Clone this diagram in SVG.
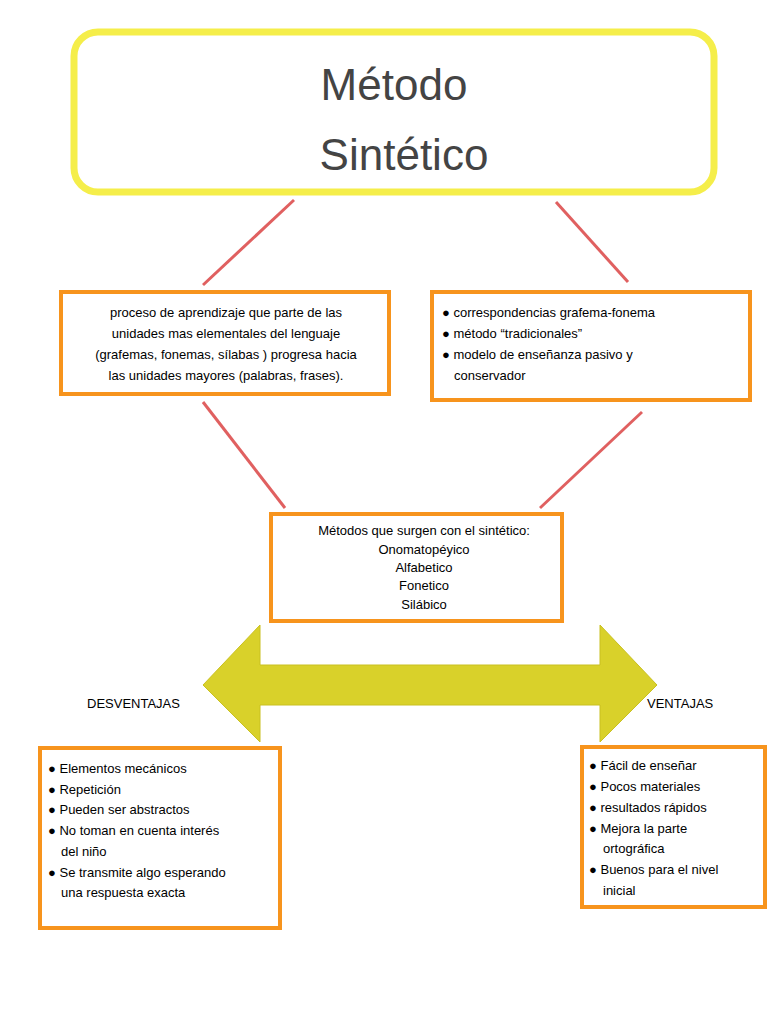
<svg xmlns="http://www.w3.org/2000/svg" width="768" height="1024" viewBox="0 0 768 1024">
<style>
.box{fill:#fff;stroke:#f7941d;stroke-width:4}
.t{font-family:"Liberation Sans",sans-serif;font-size:13px;fill:#000}
.c{text-anchor:middle}
.ln{stroke:#e06060;stroke-width:3}
</style>
<rect width="768" height="1024" fill="#fff"/>
<g id="connectors">
<line class="ln" x1="294" y1="200" x2="203" y2="285"/>
<line class="ln" x1="556" y1="202" x2="628" y2="282"/>
<line class="ln" x1="203" y1="402" x2="285" y2="508"/>
<line class="ln" x1="642" y1="412" x2="540" y2="508"/>
<path id="arrow" d="M203,685 L260,625 L260,665 L600,665 L600,625 L657,685 L600,742 L600,705 L260,705 L260,742 Z" fill="#d9d12a" stroke="#c9c020" stroke-width="1"/>
</g>
<g id="title">
<rect x="74" y="32" width="640" height="160" rx="24" fill="#fff" stroke="#f5ee4a" stroke-width="7"/>
<text x="394" y="100" font-family="Liberation Sans,sans-serif" font-size="44" fill="#444" text-anchor="middle">Método</text>
<text x="404" y="170" font-family="Liberation Sans,sans-serif" font-size="44" fill="#444" text-anchor="middle">Sintético</text>
</g>
<g id="def">
<rect class="box" x="61" y="292" width="328" height="102"/>
<text class="t c" x="226" y="317">proceso de aprendizaje que parte de las</text>
<text class="t c" x="226" y="338">unidades mas elementales del lenguaje</text>
<text class="t c" x="226" y="359">(grafemas, fonemas, sílabas ) progresa hacia</text>
<text class="t c" x="226" y="380">las unidades mayores (palabras, frases).</text>
</g>
<g id="chars">
<rect class="box" x="432" y="292" width="318" height="108"/>
<text class="t" x="442" y="317">● correspondencias grafema-fonema</text>
<text class="t" x="442" y="338">● método “tradicionales”</text>
<text class="t" x="442" y="359">● modelo de enseñanza pasivo y</text>
<text class="t" x="454" y="380">conservador</text>
</g>
<g id="metodos">
<rect class="box" x="271" y="514" width="291" height="107"/>
<text class="t c" x="424" y="535" font-size="12">Métodos que surgen con el sintético:</text>
<text class="t c" x="424" y="554" font-size="12">Onomatopéyico</text>
<text class="t c" x="424" y="572" font-size="12">Alfabetico</text>
<text class="t c" x="424" y="590" font-size="12">Fonetico</text>
<text class="t c" x="424" y="609" font-size="12">Silábico</text>
</g>
<text class="t" x="87" y="708">DESVENTAJAS</text>
<text class="t" x="647" y="708">VENTAJAS</text>
<g id="desv">
<rect class="box" x="40" y="748" width="240" height="180"/>
<text class="t" x="48" y="773">●  Elementos mecánicos</text>
<text class="t" x="48" y="794">●  Repetición</text>
<text class="t" x="48" y="814">●  Pueden ser abstractos</text>
<text class="t" x="48" y="835">●  No toman en cuenta interés</text>
<text class="t" x="61" y="856">del niño</text>
<text class="t" x="48" y="877">●  Se transmite algo esperando</text>
<text class="t" x="61" y="897">una respuesta exacta</text>
</g>
<g id="vent">
<rect class="box" x="582" y="747" width="183" height="160"/>
<text class="t" x="589" y="770">● Fácil de enseñar</text>
<text class="t" x="589" y="791">● Pocos materiales</text>
<text class="t" x="589" y="812">● resultados rápidos</text>
<text class="t" x="589" y="833">● Mejora la parte</text>
<text class="t" x="603" y="853">ortográfica</text>
<text class="t" x="589" y="874">● Buenos para el nivel</text>
<text class="t" x="603" y="895">inicial</text>
</g>
</svg>
